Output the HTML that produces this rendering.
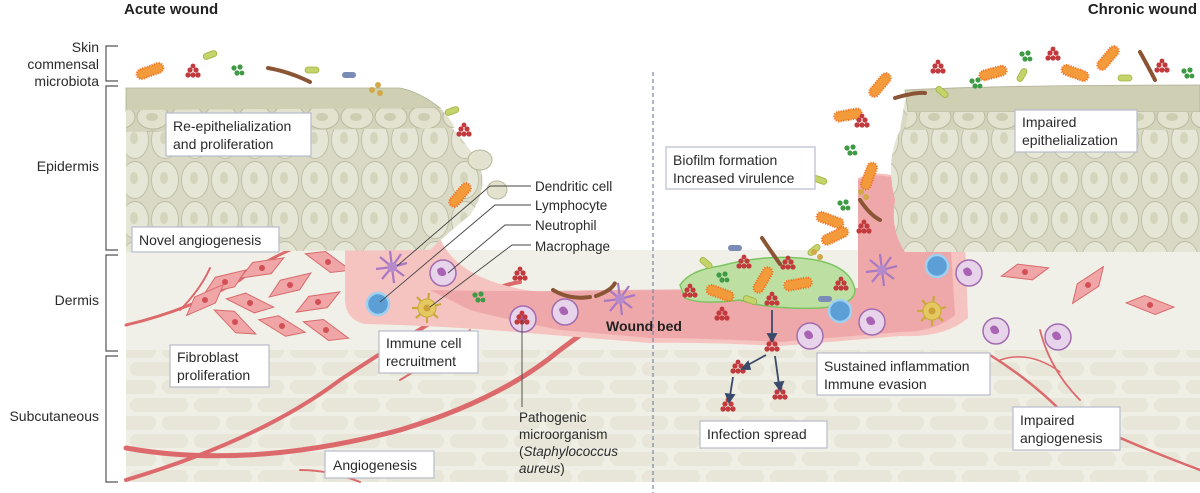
<!DOCTYPE html>
<html><head><meta charset="utf-8"><style>
body{margin:0;background:#fff;}
svg{display:block;font-family:"Liberation Sans",sans-serif;}
.lb{fill:#fff;stroke:#b7bccb;stroke-width:1.2}
.t{font-size:14px;fill:#2a2a2a}
.s{font-size:13.5px;fill:#2a2a2a}
</style></head><body>
<svg width="1200" height="493" viewBox="0 0 1200 493" xmlns="http://www.w3.org/2000/svg">
<defs>
<pattern id="fat" width="64" height="36" patternUnits="userSpaceOnUse">
<rect width="64" height="36" fill="#f0efe6"/>
<rect x="2" y="2" width="58" height="14" rx="7" fill="#e7e6d8"/>
<rect x="-30" y="20" width="58" height="14" rx="7" fill="#e7e6d8"/>
<rect x="34" y="20" width="58" height="14" rx="7" fill="#e7e6d8"/>
</pattern>
<pattern id="epi" width="30" height="40" patternUnits="userSpaceOnUse">
<rect width="30" height="40" fill="#d9d9c5"/>
<ellipse cx="15" cy="20" rx="13.5" ry="18.5" fill="#e6e6d6" stroke="#bdbda3" stroke-width="0.9"/>
<ellipse cx="14" cy="18" rx="4" ry="6" fill="#d5d5bd"/>
</pattern>
<pattern id="epi2" width="34" height="26" patternUnits="userSpaceOnUse">
<rect width="34" height="26" fill="#d4d4bd"/>
<ellipse cx="17" cy="13" rx="16" ry="12" fill="#e2e2cf" stroke="#b8b89c" stroke-width="1"/>
<ellipse cx="16" cy="13" rx="6" ry="4" fill="#cdcdb2"/>
</pattern>
<g id="fib"><path d="M-24,0 L-6,-9 L24,0 L6,9 Z" fill="#f0a6a6" stroke="#d86a6c" stroke-width="1"/><circle r="3" fill="#d24f55"/></g>
<g id="bac"><rect x="-14" y="-5" width="28" height="10" rx="5" fill="#f39a3a" stroke="#f26a1b" stroke-width="2" stroke-dasharray="1 1.5"/></g>
<g id="rod"><rect x="-7" y="-3" width="14" height="6" rx="3" fill="#c5d46a" stroke="#9fb040" stroke-width="0.8"/></g>
<g id="sa"><circle cx="-3" cy="-3" r="2.6" fill="#c23a3d"/><circle cx="3" cy="-3" r="2.6" fill="#c23a3d"/><circle cx="0" cy="2" r="2.6" fill="#c23a3d"/><circle cx="-5" cy="2" r="2.6" fill="#c23a3d"/><circle cx="5" cy="2" r="2.6" fill="#c23a3d"/><circle cx="0" cy="-7" r="2.4" fill="#c23a3d"/></g>
<g id="grn"><circle cx="-3" cy="-2" r="2.6" fill="#3f9a45"/><circle cx="3" cy="-3" r="2.6" fill="#3f9a45"/><circle cx="0" cy="3" r="2.6" fill="#3f9a45"/><circle cx="5" cy="3" r="2.4" fill="#3f9a45"/></g>
<g id="neu"><circle r="13" fill="#e7d3ea" stroke="#a26bb0" stroke-width="1.5"/><path d="M-6,-3 q4,-5 8,0 q3,5 -2,6 q-5,1 -6,-6" fill="#a863b2"/></g>
<g id="lym"><circle r="11" fill="#5b9fd6" stroke="#9fd0f0" stroke-width="2.5"/></g>
<g id="dc"><g stroke="#a878c2" stroke-width="2.2" fill="none"><path d="M0,0 L15,-4 M0,0 L12,9 M0,0 L2,16 M0,0 L-10,12 M0,0 L-16,2 M0,0 L-12,-10 M0,0 L-2,-16 M0,0 L9,-13"/></g><circle r="5" fill="#b58acb"/></g>
<g id="mac"><g stroke="#c9a83c" stroke-width="2.2"><path d="M0,0 L14,-4 M0,0 L11,10 M0,0 L0,15 M0,0 L-11,10 M0,0 L-15,0 M0,0 L-10,-11 M0,0 L2,-15"/></g><circle r="9" fill="#e5c860" stroke="#c9a83c"/><circle r="3.5" fill="#c9a03c"/></g>
</defs>

<text x="124" y="14" font-size="15" font-weight="bold" fill="#222">Acute wound</text>
<text x="1197" y="14" font-size="15" font-weight="bold" fill="#222" text-anchor="end">Chronic wound</text>

<g class="t" text-anchor="end">
<text x="99" y="52">Skin</text><text x="99" y="69">commensal</text><text x="99" y="86">microbiota</text>
<text x="99" y="171">Epidermis</text>
<text x="99" y="305">Dermis</text>
<text x="99" y="421">Subcutaneous</text>
</g>
<g stroke="#555" stroke-width="1.2" fill="none">
<path d="M118,46 H106 V81 H118"/>
<path d="M118,86 H106 V250 H118"/>
<path d="M118,255 H106 V351 H118"/>
<path d="M118,356 H106 V482 H118"/>
</g>

<rect x="126" y="250" width="1074" height="103" fill="#f1f0e8"/>
<rect x="126" y="350" width="1074" height="132" fill="url(#fat)"/>

<g stroke="#dc6a6c" fill="none" stroke-linecap="round">
<path d="M126,325 Q190,310 240,280 Q262,262 290,250" stroke-width="3"/>
<path d="M180,310 Q200,290 210,268" stroke-width="2"/>
<path d="M126,448 Q250,470 400,430 Q500,400 560,350 Q600,320 630,300" stroke-width="5"/>
<path d="M126,480 Q260,440 340,380 Q400,340 470,300 Q500,285 520,282" stroke-width="4"/>
<path d="M300,470 Q330,470 360,482" stroke-width="2"/>
<path d="M400,380 Q450,350 470,330" stroke-width="2"/>
<path d="M990,355 Q1030,380 1060,410 Q1120,440 1200,470" stroke-width="2.5"/>
<path d="M1040,330 Q1050,370 1080,400" stroke-width="1.8"/>
<path d="M1000,360 Q1030,350 1060,372" stroke-width="1.5"/>
</g>

<use href="#fib" x="225" y="282" transform="rotate(-30 225 282)"/>
<use href="#fib" x="262" y="268" transform="rotate(-25 262 268)"/>
<use href="#fib" x="290" y="285" transform="rotate(-30 290 285)"/>
<use href="#fib" x="328" y="262" transform="rotate(20 328 262)"/>
<use href="#fib" x="250" y="303" transform="rotate(10 250 303)"/>
<use href="#fib" x="318" y="302" transform="rotate(-25 318 302)"/>
<use href="#fib" x="205" y="300" transform="rotate(-40 205 300)"/>
<use href="#fib" x="235" y="322" transform="rotate(30 235 322)"/>
<use href="#fib" x="282" y="326" transform="rotate(15 282 326)"/>
<use href="#fib" x="326" y="330" transform="rotate(20 326 330)"/>
<use href="#fib" x="1025" y="272" transform="rotate(-10 1025 272)"/>
<use href="#fib" x="1088" y="285" transform="rotate(-50 1088 285)"/>
<use href="#fib" x="1150" y="305" transform="rotate(5 1150 305)"/>

<path d="M345,250 L440,238 Q458,282 540,292 L858,288 L858,178 Q880,168 905,180 L965,245 L968,318 Q945,338 900,336 L780,346 Q700,342 650,343 L540,334 Q450,326 365,324 Q346,320 345,300 Z" fill="#f5c3c0"/>
<path d="M430,290 Q520,292 600,290 L858,288 L858,180 Q880,170 905,182 L950,235 L955,315 Q935,332 900,332 L780,342 Q700,338 650,338 L560,330 Q500,318 470,310 Z" fill="#ec9fa1" opacity="0.75"/>

<path d="M126,100 L410,100 Q440,108 470,150 Q495,180 470,215 Q440,240 430,250 L126,252 Z" fill="url(#epi)"/>
<path d="M126,88 L400,88 Q420,92 440,108 L126,112 Z" fill="#cfcfb4" stroke="#b0b094" stroke-width="0.8"/>
<path d="M126,110 L440,108 Q450,118 455,128 L126,132 Z" fill="url(#epi2)"/>
<ellipse cx="480" cy="160" rx="12" ry="10" fill="#e2e2cf" stroke="#b8b89c"/>
<ellipse cx="497" cy="190" rx="10" ry="9" fill="#e2e2cf" stroke="#b8b89c"/>

<path d="M905,100 L1200,95 L1200,252 L905,252 Q890,230 895,200 Q885,160 900,130 Z" fill="url(#epi)"/>
<path d="M905,90 Q1000,85 1200,85 L1200,112 L908,112 Z" fill="#cfcfb4" stroke="#b0b094" stroke-width="0.8"/>
<path d="M908,112 L1200,112 L1200,130 L905,130 Z" fill="url(#epi2)"/>

<line x1="653" y1="72" x2="653" y2="493" stroke="#7585a6" stroke-width="1.2" stroke-dasharray="4 3"/>

<path d="M680,285 Q690,270 720,266 Q760,255 800,258 Q850,262 855,290 Q855,305 820,308 Q770,310 740,300 Q700,305 685,298 Z" fill="#bde0a2" stroke="#7cc461" stroke-width="1.5"/>

<use href="#dc" x="392" y="267"/>
<use href="#neu" x="443" y="273"/>
<use href="#lym" x="378" y="304"/>
<use href="#mac" x="427" y="308"/>
<use href="#neu" x="523" y="319"/>
<use href="#neu" x="565" y="312"/>
<use href="#dc" x="620" y="299"/>
<use href="#neu" x="810" y="336"/>
<use href="#lym" x="840" y="311"/>
<use href="#neu" x="872" y="322"/>
<use href="#dc" x="882" y="270"/>
<use href="#mac" x="932" y="311"/>
<use href="#lym" x="937" y="266"/>
<use href="#neu" x="969" y="273"/>
<use href="#neu" x="996" y="331"/>
<use href="#neu" x="1058" y="337"/>

<use href="#bac" x="150" y="71" transform="rotate(-20 150 71)"/>
<use href="#bac" x="460" y="195" transform="rotate(-50 460 195)"/>
<use href="#bac" x="880" y="85" transform="rotate(-50 880 85)"/>
<use href="#bac" x="848" y="115" transform="rotate(-10 848 115)"/>
<use href="#bac" x="993" y="73" transform="rotate(-15 993 73)"/>
<use href="#bac" x="1075" y="73" transform="rotate(20 1075 73)"/>
<use href="#bac" x="1108" y="58" transform="rotate(-50 1108 58)"/>
<use href="#bac" x="830" y="220" transform="rotate(20 830 220)"/>
<use href="#bac" x="835" y="236" transform="rotate(-25 835 236)"/>
<use href="#bac" x="869" y="176" transform="rotate(-70 869 176)"/>
<use href="#bac" x="720" y="293" transform="rotate(20 720 293)"/>
<use href="#bac" x="763" y="280" transform="rotate(-60 763 280)"/>
<use href="#bac" x="798" y="284" transform="rotate(-10 798 284)"/>
<use href="#rod" x="210" y="55" transform="rotate(-20 210 55)"/>
<use href="#rod" x="312" y="70"/>
<use href="#rod" x="452" y="111" transform="rotate(-20 452 111)"/>
<use href="#rod" x="1022" y="75" transform="rotate(-60 1022 75)"/>
<use href="#rod" x="942" y="92" transform="rotate(40 942 92)"/>
<use href="#rod" x="1125" y="78"/>
<use href="#rod" x="706" y="263" transform="rotate(40 706 263)"/>
<use href="#rod" x="750" y="300" transform="rotate(20 750 300)"/>
<use href="#rod" x="820" y="180" transform="rotate(20 820 180)"/>
<use href="#rod" x="814" y="250" transform="rotate(-40 814 250)"/>
<use href="#sa" x="193" y="73"/>
<use href="#sa" x="464" y="132"/>
<use href="#sa" x="520" y="276"/>
<use href="#sa" x="938" y="69"/>
<use href="#sa" x="1053" y="56"/>
<use href="#sa" x="1162" y="68"/>
<use href="#sa" x="862" y="123"/>
<use href="#sa" x="864" y="229"/>
<use href="#sa" x="744" y="264"/>
<use href="#sa" x="788" y="265"/>
<use href="#sa" x="690" y="293"/>
<use href="#sa" x="772" y="301"/>
<use href="#sa" x="722" y="316"/>
<use href="#sa" x="841" y="286"/>
<use href="#sa" x="772" y="347"/>
<use href="#sa" x="738" y="369"/>
<use href="#sa" x="780" y="395"/>
<use href="#sa" x="728" y="407"/>
<use href="#sa" x="522" y="320"/>
<use href="#grn" x="237" y="70"/>
<use href="#grn" x="478" y="297"/>
<use href="#grn" x="975" y="83"/>
<use href="#grn" x="1025" y="56"/>
<use href="#grn" x="1187" y="73"/>
<use href="#grn" x="850" y="150"/>
<use href="#grn" x="843" y="205"/>
<use href="#grn" x="722" y="277"/>
<g stroke="#8a5535" stroke-width="4" stroke-linecap="round" fill="none" stroke-dasharray="5 1">
<path d="M268,68 Q290,72 310,82"/><path d="M553,290 Q570,300 590,297"/><path d="M596,296 Q612,290 615,283"/>
<path d="M895,98 Q915,92 925,93"/><path d="M1140,52 Q1150,70 1155,80"/><path d="M762,238 Q770,250 780,264"/><path d="M860,200 Q870,215 880,220"/>
</g>
<g fill="#7a8bb5"><rect x="342" y="72" width="14" height="6" rx="3"/><rect x="728" y="245" width="14" height="6" rx="3"/><rect x="818" y="296" width="14" height="6" rx="3"/></g>
<g fill="#d2a94a"><circle cx="372" cy="90" r="3"/><circle cx="378" cy="85" r="3"/><circle cx="380" cy="93" r="3"/><circle cx="814" cy="252" r="3"/><circle cx="820" cy="257" r="3"/><circle cx="861" cy="192" r="3"/><circle cx="866" cy="197" r="3"/></g>

<g stroke="#3a4a6a" stroke-width="1.8" fill="#3a4a6a">
<line x1="772" y1="310" x2="772" y2="336"/><path d="M768,334 L776,334 L772,341Z"/>
<line x1="766" y1="355" x2="746" y2="366"/><path d="M748,362 L750,369 L742,369Z"/>
<line x1="775" y1="356" x2="779" y2="385"/><path d="M775,383 L783,382 L780,390Z"/>
<line x1="733" y1="377" x2="730" y2="396"/><path d="M726,394 L734,395 L729,402Z"/>
</g>

<g stroke="#444" stroke-width="0.9" fill="none">
<path d="M531,186 L490,186 L397,266"/>
<path d="M531,205 L495,205 L380,302"/>
<path d="M531,225 L505,225 L448,273"/>
<path d="M531,245 L512,245 L430,307"/>
<path d="M522,320 L522,407"/>
</g>
<g class="s">
<text x="535" y="191">Dendritic cell</text>
<text x="535" y="210">Lymphocyte</text>
<text x="535" y="230">Neutrophil</text>
<text x="535" y="251">Macrophage</text>
<text x="519" y="422">Pathogenic</text>
<text x="519" y="439">microorganism</text>
<text x="519" y="456">(<tspan font-style="italic">Staphylococcus</tspan></text>
<text x="519" y="473"><tspan font-style="italic">aureus</tspan>)</text>
</g>
<text x="606" y="331" font-size="14" font-weight="bold" fill="#222">Wound bed</text>

<rect class="lb" x="166" y="113" width="145" height="43"/>
<text class="t" x="173" y="131">Re-epithelialization</text><text class="t" x="173" y="149">and proliferation</text>
<rect class="lb" x="132" y="227" width="147" height="25"/>
<text class="t" x="139" y="245">Novel angiogenesis</text>
<rect class="lb" x="170" y="345" width="99" height="42"/>
<text class="t" x="177" y="362">Fibroblast</text><text class="t" x="177" y="380">proliferation</text>
<rect class="lb" x="379" y="331" width="99" height="42"/>
<text class="t" x="386" y="348">Immune cell</text><text class="t" x="386" y="366">recruitment</text>
<rect class="lb" x="325" y="451" width="109" height="27"/>
<text class="t" x="333" y="470">Angiogenesis</text>
<rect class="lb" x="666" y="147" width="149" height="42"/>
<text class="t" x="673" y="165">Biofilm formation</text><text class="t" x="673" y="183">Increased virulence</text>
<rect class="lb" x="1015" y="110" width="122" height="42"/>
<text class="t" x="1022" y="127">Impaired</text><text class="t" x="1022" y="145">epithelialization</text>
<rect class="lb" x="817" y="353" width="173" height="42"/>
<text class="t" x="824" y="371">Sustained inflammation</text><text class="t" x="824" y="389">Immune evasion</text>
<rect class="lb" x="700" y="421" width="127" height="27"/>
<text class="t" x="707" y="439">Infection spread</text>
<rect class="lb" x="1013" y="407" width="107" height="43"/>
<text class="t" x="1020" y="425">Impaired</text><text class="t" x="1020" y="443">angiogenesis</text>
</svg>
</body></html>
